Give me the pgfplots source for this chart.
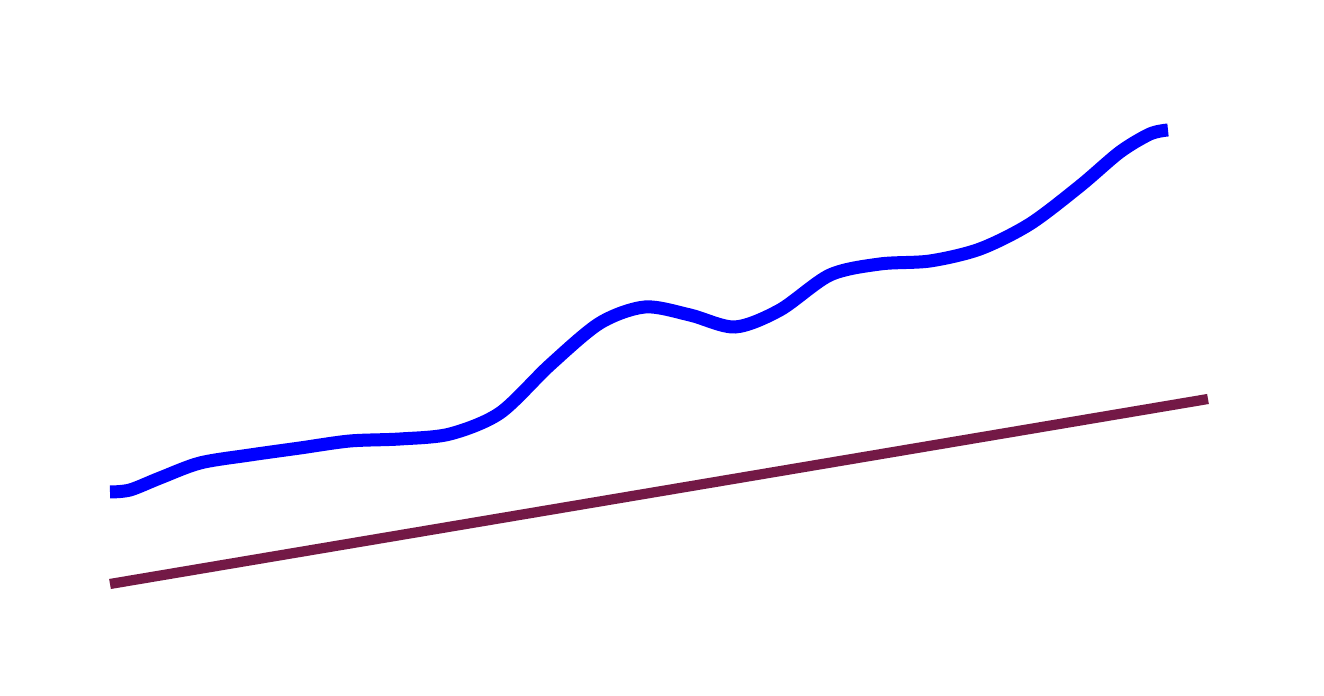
\documentclass[border=0pt]{standalone}
\usepackage{pgfplots}
\pgfplotsset{compat=1.18}
\definecolor{linepurple}{RGB}{115,25,70}
\begin{document}
\begin{tikzpicture}
    % axis in pixel units of the 1324x696 reference, y measured upwards
    \begin{axis}[
        width=13.24cm, height=6.96cm,
        scale only axis,
        xmin=0, xmax=1324,
        ymin=0, ymax=696,
        hide axis,
        clip=false
    ]
    \path[use as bounding box] (axis cs:0,0) rectangle (axis cs:1324,696);

    \addplot [color=blue, line width=3.7pt, smooth, tension=0.5] coordinates {
        (110, 204)
        (130, 206)
        (160, 218)
        (200, 233)
        (250, 241)
        (300, 248)
        (350, 255)
        (400, 257)
        (450, 262)
        (500, 283)
        (550, 331)
        (600, 373)
        (645, 389)
        (690, 381)
        (735, 369)
        (780, 386)
        (830, 421)
        (880, 432)
        (930, 435)
        (980, 447)
        (1030, 472)
        (1080, 510)
        (1120, 544)
        (1150, 562)
        (1168, 566)
    };

    \addplot [color=linepurple, line width=2.9pt] coordinates {
        (110, 112)
        (1208, 297)
    };
    \end{axis}
\end{tikzpicture}
\end{document}
